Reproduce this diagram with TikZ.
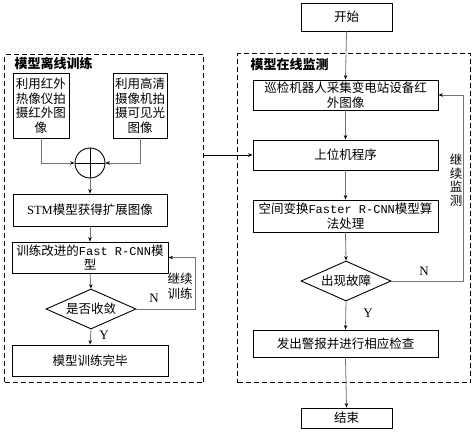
\documentclass[tikz,border=0pt]{standalone}
\usepackage{fontspec}
\setmainfont{Noto Sans CJK SC}
\newfontfamily\latin{Liberation Serif}
\setmonofont[Scale=0.96]{Liberation Mono}
\usetikzlibrary{shapes.geometric,arrows.meta}
\begin{document}
\begin{tikzpicture}[x=1pt,y=-1pt,%
% common options for blocks:
block/.style = {draw, line width=0.9pt, align=center, inner sep=1pt,
            font=\fontsize{12.5}{14.5}\selectfont},
% common options for the decisions:
decide/.style = {diamond, aspect=2.25, draw, line width=0.9pt, align=center, inner sep=0,
            minimum width=90, minimum height=40, font=\fontsize{12.5}{14.5}\selectfont},
% dashed frames of the two stages:
frame/.style = {draw, line width=1pt, dash pattern=on 5pt off 3pt, anchor=north west},
% connectors:
line/.style = {draw=black!55, line width=0.8pt},
arrow/.style = {line, -{Stealth[length=4.5pt,width=3.5pt,color=black]}},
label/.style = {font=\fontsize{12.5}{14.5}\selectfont}]
\useasboundingbox (0,0) rectangle (474,432);
% frames
\node[frame,minimum width=199,minimum height=328] (offline) at (4,54) {};
\node[frame,minimum width=233,minimum height=329] (online) at (237,53) {};
\node[anchor=west,font=\fontsize{13}{14}\selectfont\bfseries] (T1) at (11,63) {模型离线训练};
\node[anchor=west,font=\fontsize{13}{14}\selectfont\bfseries] (T2) at (247,65) {模型在线监测};
% offline training
\node[block,minimum width=56,minimum height=65] (irA) at (41,105.5) {利用红外\\热像仪拍\\摄红外图\\像};
\node[block,minimum width=54,minimum height=65] (hdB) at (140,105.5) {利用高清\\摄像机拍\\摄可见光\\图像};
\node[circle,draw,line width=0.9pt,minimum size=30,inner sep=0] (sum) at (90,163) {};
\draw[line width=0.9pt] (sum.north) -- (sum.south);
\draw[line width=0.9pt] (sum.west) -- (sum.east);
\node[block,minimum width=154,minimum height=32] (stm) at (90,210) {{\latin STM}模型获得扩展图像};
\node[block,minimum width=156,minimum height=31] (fast) at (90,257.5) {训练改进的{\ttfamily Fast R-CNN}模\\型};
\node[decide] (conv) at (91,309) {是否收敛};
\node[block,minimum width=156,minimum height=31] (done) at (90,360.5) {模型训练完毕};
\coordinate (fbL) at (195,309);
\draw[arrow] (irA.south) |- (sum.west);
\draw[arrow] (hdB.south) |- (sum.east);
\draw[arrow] (sum.south) -- (stm.north);
\draw[arrow] (stm.south) -- (fast.north);
\draw[arrow] (fast.south) -- (conv.north);
\draw[arrow] (conv.south) -- (done.north);
\draw[arrow] (conv.east) -- (fbL) |- (fast.east);
\node[label,align=center] (L1) at (180,286) {继续\\训练};
\node[label,font=\fontsize{13}{14}\latin] (N1) at (154,298) {N};
\node[label,font=\fontsize{13}{14}\latin] (Y1) at (104,335) {Y};
% online monitoring
\node[block,minimum width=91,minimum height=28] (start) at (346.5,17) {开始};
\node[block,minimum width=185,minimum height=30] (collect) at (345.5,95) {巡检机器人采集变电站设备红\\外图像};
\node[block,minimum width=185,minimum height=30] (prog) at (345.5,155) {上位机程序};
\node[block,minimum width=185,minimum height=32] (stfr) at (345.5,216) {空间变换{\ttfamily Faster R-CNN}模型算\\法处理};
\node[decide] (fault) at (346,281) {出现故障};
\node[block,minimum width=185,minimum height=27] (alarm) at (345.5,343.5) {发出警报并进行相应检查};
\node[block,minimum width=91,minimum height=20] (end) at (346.5,418) {结束};
\coordinate (fbR) at (463,281);
\draw[arrow] (start.south) -- (collect.north);
\draw[arrow] (collect.south) -- (prog.north);
\draw[arrow] (prog.south) -- (stfr.north);
\draw[arrow] (stfr.south) -- (fault.north);
\draw[arrow] (fault.south) -- (alarm.north);
\draw[arrow] (alarm.south) -- (end.north);
\draw[arrow] (fault.east) -- (fbR) |- (collect.east);
\draw[line width=0.9pt,-{Stealth[length=4.5pt,width=3.5pt]}] (offline.east |- prog.west) -- (prog.west);
\node[label,align=center,font=\fontsize{12.5}{13.5}\selectfont] (L2) at (456,180) {继\\续\\监\\测};
\node[label,font=\fontsize{13}{14}\latin] (N2) at (424,271) {N};
\node[label,font=\fontsize{13}{14}\latin] (Y2) at (368,313) {Y};
\end{tikzpicture}
\end{document}
